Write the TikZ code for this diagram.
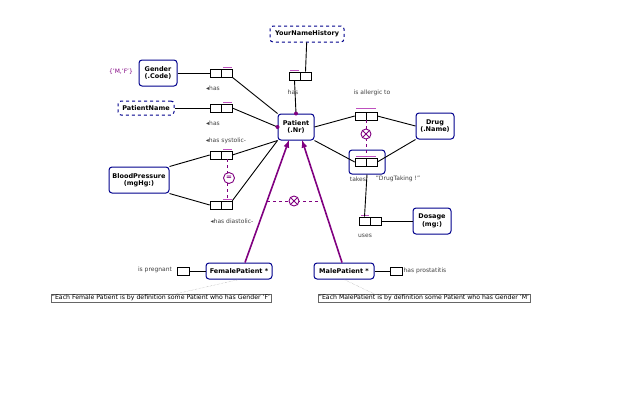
\documentclass[tikz,border=0pt]{standalone}
\usepackage{fontspec}
\setmainfont{DejaVu Sans}
\definecolor{uqc}{RGB}{190,80,190}
\definecolor{cons}{RGB}{128,0,128}
\begin{document}
\begin{tikzpicture}[x=1pt,y=-1pt,
 ent/.style={draw=blue!55!black,line width=1pt,rounded corners=3pt,fill=white,font=\fontsize{6.5}{7.5}\selectfont\bfseries,align=center,inner sep=1pt},
 val/.style={ent,dashed},
 role/.style={draw=black,line width=0.6pt,minimum width=11pt,minimum height=8pt,inner sep=0pt,fill=white},
 lbl/.style={font=\fontsize{6}{7}\selectfont,text=black!75},
 ln/.style={line width=0.9pt},
 uq/.style={uqc,line width=0.9pt},
 note/.style={draw=black!60,font=\fontsize{6.2}{7}\selectfont,inner sep=1pt}]
\useasboundingbox (0,0) rectangle (624,400);
% object types
\node[val,minimum width=74pt,minimum height=16pt] (ynh) at (307,34) {YourNameHistory};
\node[ent,minimum width=38pt,minimum height=26pt] (gender) at (158,73) {Gender\\(.Code)};
\node[lbl,text=cons] (gv) at (121,72) {\{'M,'F'\}};
\node[val,minimum width=56pt,minimum height=14pt] (pname) at (146,108) {PatientName};
\node[ent,minimum width=36pt,minimum height=26pt] (pat) at (296,127) {Patient\\(.Nr)};
\node[ent,minimum width=60pt,minimum height=26pt] (bp) at (139,180) {BloodPressure\\(mgHg:)};
\node[ent,minimum width=38pt,minimum height=26pt] (drug) at (435,126) {Drug\\(.Name)};
\node[ent,minimum width=38pt,minimum height=26pt] (dos) at (432,221) {Dosage\\(mg:)};
\node[ent,minimum width=66pt,minimum height=16pt] (fem) at (239,271) {FemalePatient *};
\node[ent,minimum width=60pt,minimum height=16pt] (mal) at (344,271) {MalePatient *};
\node[draw=blue!55!black,line width=1pt,rounded corners=3pt,minimum width=36pt,minimum height=24pt] (obj) at (367,162) {};
% facts
\newcommand\fact[3]{\node[role] (#1a) at (#2-5.5,#3) {};\node[role] (#1b) at (#2+5.5,#3) {};}
\fact{g}{221}{73}\fact{pn}{221}{108}\fact{yn}{300}{76}\fact{sy}{221}{155}\fact{di}{221}{205}
\fact{al}{366}{116}\fact{tk}{366}{162}\fact{us}{370}{221}
\node[role,minimum width=12pt] (preg) at (183,271) {};
\node[role,minimum width=12pt] (pros) at (396,271) {};
% uniqueness bars
\draw[uq] (223,67)--(232,67); \draw[uq] (223,102)--(232,102);
\draw[uq] (290,70)--(299,70); \draw[uq] (223,149)--(232,149); \draw[uq] (223,199)--(232,199);
\draw[uq] (356,108)--(376,108); \draw[uq] (356,156)--(376,156); \draw[uq] (361,215)--(369,215);
% connectors
\draw[ln] (gender)--(ga); \draw[ln] (gb.south east)--(pat.north west);
\draw[ln] (pname)--(pna); \draw[ln] (pnb.east)--(pat.west);
\draw[ln] (ynh)--(ynb.north); \draw[ln] (yna.south)--(pat.north);
\draw[ln] (bp.north east)--(sya.west); \draw[ln] (syb.east)--(pat.south west);
\draw[ln] (bp.south east)--(dia.west); \draw[ln] (dib.north east)--(pat.south west);
\draw[ln] (pat.east)--(ala.west); \draw[ln] (alb.east)--(drug.west);
\draw[ln] (pat.south east)--(tka.west); \draw[ln] (tkb.east)--(drug.south west);
\draw[ln] (obj.south)--(usa.north); \draw[ln] (usb.east)--(dos.west);
\draw[ln] (preg)--(fem); \draw[ln] (mal)--(pros);
% mandatory dots
\fill[cons] (pat.north) circle (2pt); \fill[cons] (pat.west) circle (2pt);
% constraints
\draw[cons,dashed,line width=0.7pt] (227,159)--(227,201);
\node[circle,draw=cons,line width=0.9pt,fill=white,inner sep=0pt,minimum size=11pt,font=\fontsize{7}{7}\selectfont\bfseries,text=cons] (eq) at (229,178) {=};
\draw[cons,dashed,line width=0.7pt] (366,120)--(366,156);
\node[circle,draw=cons,line width=0.9pt,fill=white,inner sep=0pt,minimum size=10pt] (ex) at (366,134) {};
\draw[cons,line width=0.9pt] (ex.north west)--(ex.south east) (ex.north east)--(ex.south west);
\draw[cons,dashed,line width=0.7pt] (267,201)--(323,201);
\node[circle,draw=cons,line width=0.9pt,fill=white,inner sep=0pt,minimum size=10pt] (sx) at (294,201) {};
\draw[cons,line width=0.9pt] (sx.north west)--(sx.south east) (sx.north east)--(sx.south west);
% subtype arrows
\draw[cons,line width=1.6pt,-latex] (fem.north)+(6,0)--(289,140);
\draw[cons,line width=1.6pt,-latex] (mal.north)+(-2,0)--(302,140);
% labels
\node[lbl] at (213,88) {◂has};
\node[lbl] at (213,123) {◂has};
\node[lbl] at (293,92) {has};
\node[lbl] at (226,141) {◂has systolic-};
\node[lbl] at (232,221) {◂has diastolic-};
\node[lbl] at (372,93) {is allergic to};
\node[lbl] at (358,179) {takes};
\node[lbl] at (398,179) {"DrugTaking !"};
\node[lbl] at (365,236) {uses};
\node[lbl] at (155,270) {is pregnant};
\node[lbl] at (425,271) {has prostatitis};
% notes
\node[note] (nf) at (161,298) {"Each Female Patient is by definition some Patient who has Gender 'F'};
\node[note] (nm) at (424,298) {"Each MalePatient is by definition some Patient who has Gender 'M'};
\draw[black!40,densely dotted] (nf.north)+(15,0)--(fem.south);
\draw[black!40,densely dotted] (nm.north)+(-50,0)--(mal.south);
\end{tikzpicture}
\end{document}
